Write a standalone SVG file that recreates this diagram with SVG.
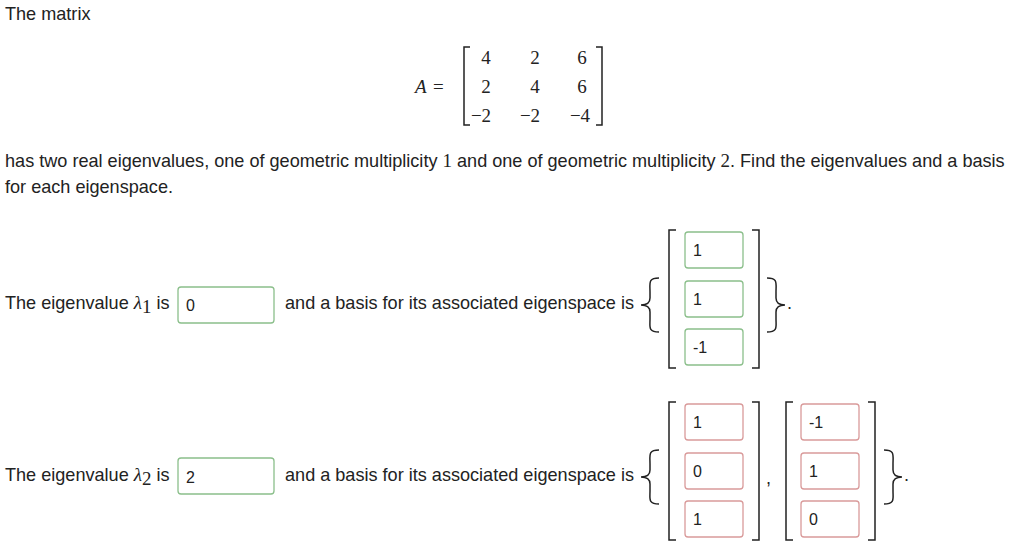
<svg xmlns="http://www.w3.org/2000/svg" width="1024" height="549" viewBox="0 0 1024 549">
<style>
.t{font-family:"Liberation Sans",Arial,sans-serif;font-size:18.1px;fill:#222}
.m{font-family:"Liberation Serif","Times New Roman",serif;font-size:19px;fill:#222}
.g{fill:#fff;stroke:#8bbf8b;stroke-width:1.3}
.r{fill:#fff;stroke:#d99a9a;stroke-width:1.3}
.bk{fill:none;stroke:#222;stroke-width:1.5}
.v{font-family:"Liberation Sans",Arial,sans-serif;font-size:16px;fill:#222}
</style>
<rect width="1024" height="549" fill="#fff"/>
<text class="t" x="5" y="20">The matrix</text>
<text class="m" x="415" y="93" font-style="italic">A</text>
<text class="m" x="433" y="93">=</text>
<path class="bk" d="M470,47 H464 V125 H470 M596,47 H602 V125 H596"/>
<g class="m" text-anchor="middle">
<text x="486" y="64">4</text><text x="535" y="64">2</text><text x="582" y="64">6</text>
<text x="486" y="93">2</text><text x="535" y="93">4</text><text x="582" y="93">6</text>
<text x="481" y="122">−2</text><text x="530" y="122">−2</text><text x="580" y="122">−4</text>
</g>
<text class="t" x="5" y="167">has two real eigenvalues, one of geometric multiplicity <tspan class="m">1</tspan> and one of geometric multiplicity <tspan class="m">2</tspan>. Find the eigenvalues and a basis</text>
<text class="t" x="5" y="193">for each eigenspace.</text>

<text class="t" x="5" y="309">The eigenvalue <tspan class="m" font-style="italic">λ</tspan><tspan class="m" font-size="13" dy="4">1</tspan><tspan dy="-4"> is</tspan></text>
<rect class="g" x="178" y="287" width="96" height="36" rx="3"/>
<text class="v" x="186" y="311">0</text>
<text class="t" x="285" y="309">and a basis for its associated eigenspace is</text>
<path class="bk" d="M659,278 C648,278 650,283 650,292 V298 C650,303 647,305 641,305 C647,305 650,307 650,312 V319 C650,327 648,332 659,332"/>
<path class="bk" d="M676,230 H669 V368 H676 M752,230 H759 V368 H752"/>
<rect class="g" x="685" y="232" width="58" height="36" rx="3"/><text class="v" x="693" y="256">1</text>
<rect class="g" x="685" y="281" width="58" height="36" rx="3"/><text class="v" x="693" y="305">1</text>
<rect class="g" x="685" y="329" width="58" height="36" rx="3"/><text class="v" x="693" y="353">-1</text>
<path class="bk" d="M767,278 C778,278 776,283 776,292 V298 C776,303 779,305 785,305 C779,305 776,307 776,312 V319 C776,327 778,332 767,332"/>
<text class="t" x="787" y="309">.</text>

<text class="t" x="5" y="481">The eigenvalue <tspan class="m" font-style="italic">λ</tspan><tspan class="m" font-size="13" dy="4">2</tspan><tspan dy="-4"> is</tspan></text>
<rect class="g" x="178" y="458" width="96" height="36" rx="3"/>
<text class="v" x="186" y="483">2</text>
<text class="t" x="285" y="481">and a basis for its associated eigenspace is</text>
<path class="bk" d="M659,450 C648,450 650,455 650,464 V470 C650,475 647,477 641,477 C647,477 650,479 650,484 V491 C650,499 648,504 659,504"/>
<path class="bk" d="M676,402 H669 V540 H676 M752,402 H759 V540 H752"/>
<rect class="r" x="685" y="404" width="58" height="36" rx="3"/><text class="v" x="693" y="428">1</text>
<rect class="r" x="685" y="453" width="58" height="36" rx="3"/><text class="v" x="693" y="477">0</text>
<rect class="r" x="685" y="501" width="58" height="36" rx="3"/><text class="v" x="693" y="525">1</text>
<text class="t" x="766" y="484">,</text>
<path class="bk" d="M793,402 H786 V540 H793 M868,402 H875 V540 H868"/>
<rect class="r" x="801" y="404" width="58" height="36" rx="3"/><text class="v" x="809" y="428">-1</text>
<rect class="r" x="801" y="453" width="58" height="36" rx="3"/><text class="v" x="809" y="477">1</text>
<rect class="r" x="801" y="501" width="58" height="36" rx="3"/><text class="v" x="809" y="525">0</text>
<path class="bk" d="M884,450 C895,450 893,455 893,464 V470 C893,475 896,477 902,477 C896,477 893,479 893,484 V491 C893,499 895,504 884,504"/>
<text class="t" x="904" y="481">.</text>
</svg>
